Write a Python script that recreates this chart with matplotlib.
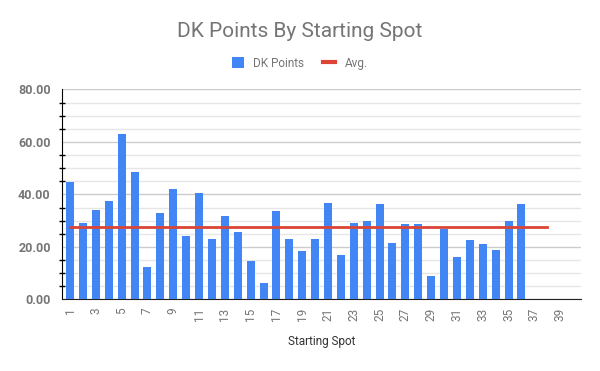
import numpy as np
import matplotlib.pyplot as plt
from matplotlib.patches import Patch
from matplotlib.lines import Line2D
from matplotlib.ticker import MultipleLocator, FuncFormatter

plt.rcParams["font.family"] = ["Roboto", "DejaVu Sans"]

BLUE = "#4285F4"
RED = "#DB4437"
GREY = "#757575"

spots = np.arange(1, 41)
dk_points = [44.6, 29.0, 33.9, 37.3, 63.2, 48.4, 12.2, 33.1, 41.9, 24.0,
	40.4, 23.2, 31.6, 25.5, 14.5, 6.1, 33.5, 22.9, 18.3, 23.2,
	36.6, 17.1, 29.0, 29.7, 36.2, 21.3, 28.6, 28.6, 8.8, 27.0,
	16.0, 22.5, 21.0, 19.0, 29.7, 36.2]
avg_spots = np.arange(1, 39)
avg_value = 27.7
tick_spots = np.arange(1, 40, 2)


def main():
	fig = plt.figure(figsize=(6.0, 3.71), dpi=100)
	ax = fig.add_axes([0.103, 0.193, 0.865, 0.566])

	ax.bar(spots[:len(dk_points)], dk_points, width=0.62, color=BLUE, zorder=3)
	ax.plot(avg_spots, np.full(len(avg_spots), avg_value), color=RED, lw=2, zorder=4)

	ax.set_xlim(0.36, 40.6)
	ax.set_ylim(0, 80)
	ax.yaxis.set_major_locator(MultipleLocator(20))
	ax.yaxis.set_minor_locator(MultipleLocator(5))
	ax.yaxis.set_major_formatter(FuncFormatter(lambda v, _: f"{v:.2f}"))
	ax.grid(axis="y", which="major", color="#cccccc", lw=1, zorder=0)
	ax.grid(axis="y", which="minor", color="#e6e6e6", lw=1, zorder=0)

	ax.set_xticks(tick_spots)
	ax.set_xticklabels([str(s) for s in tick_spots], rotation=90)
	ax.tick_params(axis="x", length=0, labelsize=8.5, colors=GREY, pad=6)
	ax.tick_params(axis="y", which="major", length=0, labelsize=9, colors=GREY, pad=8)
	ax.tick_params(axis="y", which="minor", length=5, width=1, color="black", direction="inout")
	for lab in ax.get_yticklabels():
		lab.set_fontweight("bold")

	for side in ["top", "right"]:
		ax.spines[side].set_visible(False)
	ax.spines["left"].set_color("black")
	ax.spines["bottom"].set_color("#222222")

	ax.set_xlabel("Starting Spot", fontsize=8.5, color="#333333", labelpad=10)
	fig.text(0.5, 0.915, "DK Points By Starting Spot", ha="center", va="center",
		fontsize=15, color=GREY)

	handles = [
		Patch(facecolor=BLUE, edgecolor="none"),
		Line2D([0], [0], color=RED, lw=3),
	]
	fig.legend(handles, ["DK Points", "Avg."], loc="center", bbox_to_anchor=(0.5, 0.83),
		ncol=2, frameon=False, fontsize=8.5, labelcolor=GREY, handlelength=1.0,
		handleheight=1.0, handletextpad=0.8, columnspacing=1.6)

	fig.savefig("out.png", dpi=100)


if __name__ == "__main__":
	main()
